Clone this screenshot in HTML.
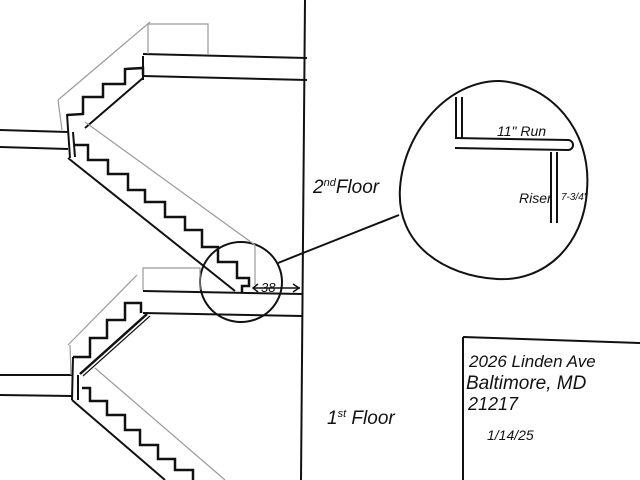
<!DOCTYPE html>
<html><head><meta charset="utf-8"><style>
html,body{margin:0;padding:0;background:#fff;}
svg{display:block}
text{font-family:"Liberation Sans",sans-serif;fill:#111;font-style:italic}
</style></head><body>
<svg width="640" height="480" viewBox="0 0 640 480" xmlns="http://www.w3.org/2000/svg">
<rect width="640" height="480" fill="#fff"/>
<g fill="none" stroke="#111" stroke-width="2" stroke-linejoin="miter">
<!-- wall -->
<line x1="305" y1="0" x2="301" y2="480"/>
<!-- upper landing -->
<line x1="143" y1="54" x2="307" y2="58"/>
<line x1="143" y1="76" x2="307" y2="80"/>
<line x1="143" y1="56" x2="143" y2="80"/>
<!-- upper left landing -->
<line x1="0" y1="130" x2="68" y2="132"/>
<line x1="0" y1="147" x2="68" y2="149"/>
<line x1="67" y1="114" x2="70" y2="158"/>
<line x1="73" y1="132" x2="75" y2="157"/>
<!-- upper flight zigzag -->
<polyline stroke-width="2.5" points="67,115 83,114 83,97 103,97 103,84 125,84 125,69 143,68 143,75"/>
<line x1="85" y1="128" x2="143" y2="78"/>
<!-- lower flight of upper stair -->
<polyline stroke-width="2.5" points="75,145 88,145 88,160 108,160 108,174 128,174 128,190 145,190 145,202 165,202 165,217 185,217 185,230 202,230 202,247 218,247 218,262 237,262 237,278 249,278 249,286 242,286 242,292"/>
<line x1="68" y1="158" x2="235" y2="291"/>
<!-- lower landing -->
<line x1="143" y1="291" x2="302" y2="294"/>
<line x1="143" y1="313" x2="302" y2="316"/>
<!-- small circle -->
<ellipse cx="241" cy="282" rx="41" ry="40"/>
<!-- connector -->
<polyline points="278,263 303,253 399,215"/>
<!-- big circle -->
<path d="M400,188 C404,130 450,80 500,81 C550,84 592,130 587,190 C584,245 545,282 497,279 C445,276 396,245 400,188 Z"/>
<!-- detail inside -->
<line x1="456" y1="97" x2="456" y2="138"/>
<line x1="462" y1="97" x2="462" y2="138"/>
<path d="M455,138 L568,140 A5,5 0 0 1 568,150 L455,148"/>
<line x1="551" y1="152" x2="551" y2="223"/>
<line x1="557" y1="152" x2="557" y2="223"/>
<!-- dimension arrow -->
<line x1="253" y1="288" x2="300" y2="288" stroke-width="1.5"/>
<polyline points="258,284 253,288 258,292" stroke-width="1.5"/>
<polyline points="293,284 299,288 293,292" stroke-width="1.5"/>
<!-- lower stair: left landing -->
<line x1="0" y1="375" x2="72" y2="375"/>
<line x1="0" y1="395" x2="72" y2="396"/>
<line x1="73" y1="357" x2="72" y2="400"/>
<line x1="78" y1="375" x2="78" y2="400"/>
<!-- lower stair upper flight -->
<polyline stroke-width="2.5" points="73,357 90,357 90,338 107,338 107,320 125,320 125,303 141,303 141,313"/>
<line x1="80" y1="374" x2="147" y2="314" stroke-width="2.5"/>
<line x1="83" y1="376" x2="150" y2="316" stroke-width="1.2"/>
<!-- lower flight -->
<polyline stroke-width="2.5" points="82,388 90,388 90,401 107,401 107,415 125,415 125,430 140,430 140,445 158,445 158,459 175,459 175,470 193,470 193,480"/>
<line x1="72" y1="400" x2="165" y2="480"/>
<!-- info box -->
<line x1="463" y1="337" x2="640" y2="343"/>
<line x1="463" y1="337" x2="463" y2="480"/>
</g>
<!-- light lines -->
<g fill="none" stroke="#9a9a9a" stroke-width="1.2">
<polyline points="208,54 208,24 148,24 148,54"/>
<line x1="150" y1="22" x2="58" y2="100"/>
<line x1="58" y1="100" x2="62" y2="130"/>
<line x1="85" y1="122" x2="255" y2="245"/>
<line x1="255" y1="245" x2="255" y2="285"/>
<polyline points="200,290 200,268 143,268 143,290"/>
<line x1="137" y1="275" x2="68" y2="345"/>
<line x1="70" y1="345" x2="71" y2="375"/>
<line x1="95" y1="368" x2="225" y2="480"/>
</g>
<text x="261" y="292" font-size="13">38</text>
<text x="313" y="193" font-size="19">2<tspan font-size="11" dy="-7">nd</tspan><tspan dy="7">Floor</tspan></text>
<text x="497" y="136" font-size="14">11" Run</text>
<text x="519" y="203" font-size="14">Riser</text>
<text x="561" y="200" font-size="10">7-3/4"</text>
<text x="327" y="424" font-size="19">1<tspan font-size="11" dy="-7">st</tspan><tspan dy="7"> Floor</tspan></text>
<text x="469" y="367" font-size="17">2026 Linden Ave</text>
<text x="466" y="389" font-size="19">Baltimore, MD</text>
<text x="468" y="410" font-size="18">21217</text>
<text x="487" y="440" font-size="14">1/14/25</text>
</svg>
</body></html>
